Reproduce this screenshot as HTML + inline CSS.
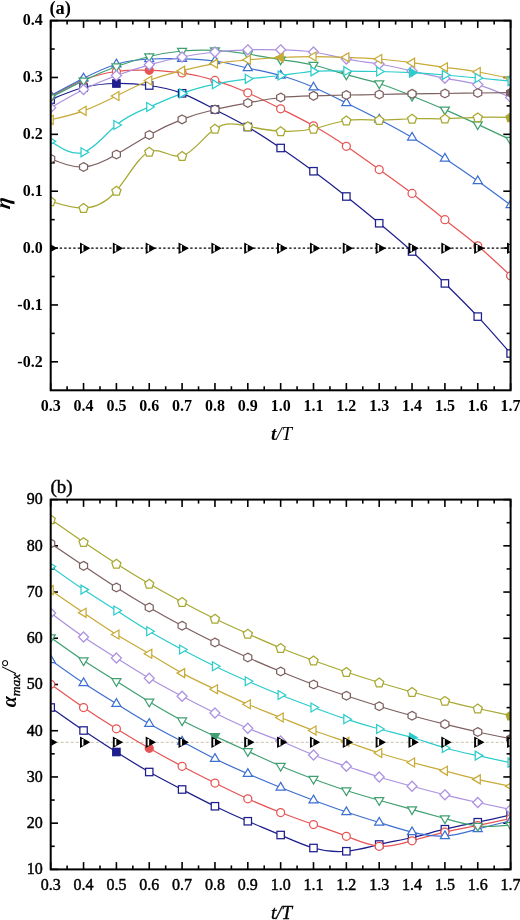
<!DOCTYPE html>
<html><head><meta charset="utf-8"><style>
html,body{margin:0;padding:0;background:#fff;}
svg{display:block;}
.tl{font-family:"Liberation Serif",serif;font-weight:bold;font-size:16px;fill:#000;}
.tl2{font-family:"Liberation Serif",serif;font-weight:normal;font-size:16px;fill:#000;stroke:#000;stroke-width:0.45px;}
.pl{font-family:"Liberation Serif",serif;font-weight:bold;font-size:18.5px;fill:#000;}
.at{font-family:"Liberation Serif",serif;font-style:italic;font-size:19px;fill:#000;}
</style></head><body>
<svg width="520" height="920" viewBox="0 0 520 920">
<rect width="520" height="920" fill="#fff"/>
<g stroke="#000" stroke-width="1.6"><line x1="50.7" y1="390.3" x2="50.7" y2="383"/><line x1="50.7" y1="20.6" x2="50.7" y2="27.9"/><line x1="83.55" y1="390.3" x2="83.55" y2="383"/><line x1="83.55" y1="20.6" x2="83.55" y2="27.9"/><line x1="116.4" y1="390.3" x2="116.4" y2="383"/><line x1="116.4" y1="20.6" x2="116.4" y2="27.9"/><line x1="149.25" y1="390.3" x2="149.25" y2="383"/><line x1="149.25" y1="20.6" x2="149.25" y2="27.9"/><line x1="182.1" y1="390.3" x2="182.1" y2="383"/><line x1="182.1" y1="20.6" x2="182.1" y2="27.9"/><line x1="214.95" y1="390.3" x2="214.95" y2="383"/><line x1="214.95" y1="20.6" x2="214.95" y2="27.9"/><line x1="247.8" y1="390.3" x2="247.8" y2="383"/><line x1="247.8" y1="20.6" x2="247.8" y2="27.9"/><line x1="280.65" y1="390.3" x2="280.65" y2="383"/><line x1="280.65" y1="20.6" x2="280.65" y2="27.9"/><line x1="313.5" y1="390.3" x2="313.5" y2="383"/><line x1="313.5" y1="20.6" x2="313.5" y2="27.9"/><line x1="346.35" y1="390.3" x2="346.35" y2="383"/><line x1="346.35" y1="20.6" x2="346.35" y2="27.9"/><line x1="379.2" y1="390.3" x2="379.2" y2="383"/><line x1="379.2" y1="20.6" x2="379.2" y2="27.9"/><line x1="412.05" y1="390.3" x2="412.05" y2="383"/><line x1="412.05" y1="20.6" x2="412.05" y2="27.9"/><line x1="444.9" y1="390.3" x2="444.9" y2="383"/><line x1="444.9" y1="20.6" x2="444.9" y2="27.9"/><line x1="477.75" y1="390.3" x2="477.75" y2="383"/><line x1="477.75" y1="20.6" x2="477.75" y2="27.9"/><line x1="510.6" y1="390.3" x2="510.6" y2="383"/><line x1="510.6" y1="20.6" x2="510.6" y2="27.9"/><line x1="67.12" y1="390.3" x2="67.12" y2="386.3"/><line x1="67.12" y1="20.6" x2="67.12" y2="24.6"/><line x1="99.98" y1="390.3" x2="99.98" y2="386.3"/><line x1="99.98" y1="20.6" x2="99.98" y2="24.6"/><line x1="132.83" y1="390.3" x2="132.83" y2="386.3"/><line x1="132.83" y1="20.6" x2="132.83" y2="24.6"/><line x1="165.68" y1="390.3" x2="165.68" y2="386.3"/><line x1="165.68" y1="20.6" x2="165.68" y2="24.6"/><line x1="198.53" y1="390.3" x2="198.53" y2="386.3"/><line x1="198.53" y1="20.6" x2="198.53" y2="24.6"/><line x1="231.38" y1="390.3" x2="231.38" y2="386.3"/><line x1="231.38" y1="20.6" x2="231.38" y2="24.6"/><line x1="264.23" y1="390.3" x2="264.23" y2="386.3"/><line x1="264.23" y1="20.6" x2="264.23" y2="24.6"/><line x1="297.08" y1="390.3" x2="297.08" y2="386.3"/><line x1="297.08" y1="20.6" x2="297.08" y2="24.6"/><line x1="329.93" y1="390.3" x2="329.93" y2="386.3"/><line x1="329.93" y1="20.6" x2="329.93" y2="24.6"/><line x1="362.78" y1="390.3" x2="362.78" y2="386.3"/><line x1="362.78" y1="20.6" x2="362.78" y2="24.6"/><line x1="395.62" y1="390.3" x2="395.62" y2="386.3"/><line x1="395.62" y1="20.6" x2="395.62" y2="24.6"/><line x1="428.48" y1="390.3" x2="428.48" y2="386.3"/><line x1="428.48" y1="20.6" x2="428.48" y2="24.6"/><line x1="461.33" y1="390.3" x2="461.33" y2="386.3"/><line x1="461.33" y1="20.6" x2="461.33" y2="24.6"/><line x1="494.18" y1="390.3" x2="494.18" y2="386.3"/><line x1="494.18" y1="20.6" x2="494.18" y2="24.6"/><line x1="50.7" y1="361.82" x2="58" y2="361.82"/><line x1="510.6" y1="361.82" x2="503.3" y2="361.82"/><line x1="50.7" y1="304.95" x2="58" y2="304.95"/><line x1="510.6" y1="304.95" x2="503.3" y2="304.95"/><line x1="50.7" y1="248.08" x2="58" y2="248.08"/><line x1="510.6" y1="248.08" x2="503.3" y2="248.08"/><line x1="50.7" y1="191.21" x2="58" y2="191.21"/><line x1="510.6" y1="191.21" x2="503.3" y2="191.21"/><line x1="50.7" y1="134.34" x2="58" y2="134.34"/><line x1="510.6" y1="134.34" x2="503.3" y2="134.34"/><line x1="50.7" y1="77.47" x2="58" y2="77.47"/><line x1="510.6" y1="77.47" x2="503.3" y2="77.47"/><line x1="50.7" y1="20.6" x2="58" y2="20.6"/><line x1="510.6" y1="20.6" x2="503.3" y2="20.6"/><line x1="50.7" y1="49.04" x2="54.7" y2="49.04"/><line x1="510.6" y1="49.04" x2="506.6" y2="49.04"/><line x1="50.7" y1="105.91" x2="54.7" y2="105.91"/><line x1="510.6" y1="105.91" x2="506.6" y2="105.91"/><line x1="50.7" y1="162.78" x2="54.7" y2="162.78"/><line x1="510.6" y1="162.78" x2="506.6" y2="162.78"/><line x1="50.7" y1="219.65" x2="54.7" y2="219.65"/><line x1="510.6" y1="219.65" x2="506.6" y2="219.65"/><line x1="50.7" y1="276.52" x2="54.7" y2="276.52"/><line x1="510.6" y1="276.52" x2="506.6" y2="276.52"/><line x1="50.7" y1="333.39" x2="54.7" y2="333.39"/><line x1="510.6" y1="333.39" x2="506.6" y2="333.39"/></g><g class="tl"><text x="42.7" y="366.62" text-anchor="end">-0.2</text><text x="42.7" y="309.75" text-anchor="end">-0.1</text><text x="42.7" y="252.88" text-anchor="end">0.0</text><text x="42.7" y="196.01" text-anchor="end">0.1</text><text x="42.7" y="139.14" text-anchor="end">0.2</text><text x="42.7" y="82.27" text-anchor="end">0.3</text><text x="42.7" y="25.4" text-anchor="end">0.4</text><text x="50.7" y="410.9" text-anchor="middle">0.3</text><text x="83.55" y="410.9" text-anchor="middle">0.4</text><text x="116.4" y="410.9" text-anchor="middle">0.5</text><text x="149.25" y="410.9" text-anchor="middle">0.6</text><text x="182.1" y="410.9" text-anchor="middle">0.7</text><text x="214.95" y="410.9" text-anchor="middle">0.8</text><text x="247.8" y="410.9" text-anchor="middle">0.9</text><text x="280.65" y="410.9" text-anchor="middle">1.0</text><text x="313.5" y="410.9" text-anchor="middle">1.1</text><text x="346.35" y="410.9" text-anchor="middle">1.2</text><text x="379.2" y="410.9" text-anchor="middle">1.3</text><text x="412.05" y="410.9" text-anchor="middle">1.4</text><text x="444.9" y="410.9" text-anchor="middle">1.5</text><text x="477.75" y="410.9" text-anchor="middle">1.6</text><text x="510.6" y="410.9" text-anchor="middle">1.7</text></g>
<g stroke="#000" stroke-width="1.6"><line x1="50.7" y1="869.4" x2="50.7" y2="862.1"/><line x1="50.7" y1="499.6" x2="50.7" y2="506.9"/><line x1="83.55" y1="869.4" x2="83.55" y2="862.1"/><line x1="83.55" y1="499.6" x2="83.55" y2="506.9"/><line x1="116.4" y1="869.4" x2="116.4" y2="862.1"/><line x1="116.4" y1="499.6" x2="116.4" y2="506.9"/><line x1="149.25" y1="869.4" x2="149.25" y2="862.1"/><line x1="149.25" y1="499.6" x2="149.25" y2="506.9"/><line x1="182.1" y1="869.4" x2="182.1" y2="862.1"/><line x1="182.1" y1="499.6" x2="182.1" y2="506.9"/><line x1="214.95" y1="869.4" x2="214.95" y2="862.1"/><line x1="214.95" y1="499.6" x2="214.95" y2="506.9"/><line x1="247.8" y1="869.4" x2="247.8" y2="862.1"/><line x1="247.8" y1="499.6" x2="247.8" y2="506.9"/><line x1="280.65" y1="869.4" x2="280.65" y2="862.1"/><line x1="280.65" y1="499.6" x2="280.65" y2="506.9"/><line x1="313.5" y1="869.4" x2="313.5" y2="862.1"/><line x1="313.5" y1="499.6" x2="313.5" y2="506.9"/><line x1="346.35" y1="869.4" x2="346.35" y2="862.1"/><line x1="346.35" y1="499.6" x2="346.35" y2="506.9"/><line x1="379.2" y1="869.4" x2="379.2" y2="862.1"/><line x1="379.2" y1="499.6" x2="379.2" y2="506.9"/><line x1="412.05" y1="869.4" x2="412.05" y2="862.1"/><line x1="412.05" y1="499.6" x2="412.05" y2="506.9"/><line x1="444.9" y1="869.4" x2="444.9" y2="862.1"/><line x1="444.9" y1="499.6" x2="444.9" y2="506.9"/><line x1="477.75" y1="869.4" x2="477.75" y2="862.1"/><line x1="477.75" y1="499.6" x2="477.75" y2="506.9"/><line x1="510.6" y1="869.4" x2="510.6" y2="862.1"/><line x1="510.6" y1="499.6" x2="510.6" y2="506.9"/><line x1="67.12" y1="869.4" x2="67.12" y2="865.4"/><line x1="67.12" y1="499.6" x2="67.12" y2="503.6"/><line x1="99.98" y1="869.4" x2="99.98" y2="865.4"/><line x1="99.98" y1="499.6" x2="99.98" y2="503.6"/><line x1="132.83" y1="869.4" x2="132.83" y2="865.4"/><line x1="132.83" y1="499.6" x2="132.83" y2="503.6"/><line x1="165.68" y1="869.4" x2="165.68" y2="865.4"/><line x1="165.68" y1="499.6" x2="165.68" y2="503.6"/><line x1="198.53" y1="869.4" x2="198.53" y2="865.4"/><line x1="198.53" y1="499.6" x2="198.53" y2="503.6"/><line x1="231.38" y1="869.4" x2="231.38" y2="865.4"/><line x1="231.38" y1="499.6" x2="231.38" y2="503.6"/><line x1="264.23" y1="869.4" x2="264.23" y2="865.4"/><line x1="264.23" y1="499.6" x2="264.23" y2="503.6"/><line x1="297.08" y1="869.4" x2="297.08" y2="865.4"/><line x1="297.08" y1="499.6" x2="297.08" y2="503.6"/><line x1="329.93" y1="869.4" x2="329.93" y2="865.4"/><line x1="329.93" y1="499.6" x2="329.93" y2="503.6"/><line x1="362.78" y1="869.4" x2="362.78" y2="865.4"/><line x1="362.78" y1="499.6" x2="362.78" y2="503.6"/><line x1="395.62" y1="869.4" x2="395.62" y2="865.4"/><line x1="395.62" y1="499.6" x2="395.62" y2="503.6"/><line x1="428.48" y1="869.4" x2="428.48" y2="865.4"/><line x1="428.48" y1="499.6" x2="428.48" y2="503.6"/><line x1="461.33" y1="869.4" x2="461.33" y2="865.4"/><line x1="461.33" y1="499.6" x2="461.33" y2="503.6"/><line x1="494.18" y1="869.4" x2="494.18" y2="865.4"/><line x1="494.18" y1="499.6" x2="494.18" y2="503.6"/><line x1="50.7" y1="869.4" x2="58" y2="869.4"/><line x1="510.6" y1="869.4" x2="503.3" y2="869.4"/><line x1="50.7" y1="823.17" x2="58" y2="823.17"/><line x1="510.6" y1="823.17" x2="503.3" y2="823.17"/><line x1="50.7" y1="776.95" x2="58" y2="776.95"/><line x1="510.6" y1="776.95" x2="503.3" y2="776.95"/><line x1="50.7" y1="730.73" x2="58" y2="730.73"/><line x1="510.6" y1="730.73" x2="503.3" y2="730.73"/><line x1="50.7" y1="684.5" x2="58" y2="684.5"/><line x1="510.6" y1="684.5" x2="503.3" y2="684.5"/><line x1="50.7" y1="638.27" x2="58" y2="638.27"/><line x1="510.6" y1="638.27" x2="503.3" y2="638.27"/><line x1="50.7" y1="592.05" x2="58" y2="592.05"/><line x1="510.6" y1="592.05" x2="503.3" y2="592.05"/><line x1="50.7" y1="545.83" x2="58" y2="545.83"/><line x1="510.6" y1="545.83" x2="503.3" y2="545.83"/><line x1="50.7" y1="499.6" x2="58" y2="499.6"/><line x1="510.6" y1="499.6" x2="503.3" y2="499.6"/><line x1="50.7" y1="846.29" x2="54.7" y2="846.29"/><line x1="510.6" y1="846.29" x2="506.6" y2="846.29"/><line x1="50.7" y1="800.06" x2="54.7" y2="800.06"/><line x1="510.6" y1="800.06" x2="506.6" y2="800.06"/><line x1="50.7" y1="753.84" x2="54.7" y2="753.84"/><line x1="510.6" y1="753.84" x2="506.6" y2="753.84"/><line x1="50.7" y1="707.61" x2="54.7" y2="707.61"/><line x1="510.6" y1="707.61" x2="506.6" y2="707.61"/><line x1="50.7" y1="661.39" x2="54.7" y2="661.39"/><line x1="510.6" y1="661.39" x2="506.6" y2="661.39"/><line x1="50.7" y1="615.16" x2="54.7" y2="615.16"/><line x1="510.6" y1="615.16" x2="506.6" y2="615.16"/><line x1="50.7" y1="568.94" x2="54.7" y2="568.94"/><line x1="510.6" y1="568.94" x2="506.6" y2="568.94"/><line x1="50.7" y1="522.71" x2="54.7" y2="522.71"/><line x1="510.6" y1="522.71" x2="506.6" y2="522.71"/></g><g class="tl2"><text x="42.7" y="874.2" text-anchor="end">10</text><text x="42.7" y="827.97" text-anchor="end">20</text><text x="42.7" y="781.75" text-anchor="end">30</text><text x="42.7" y="735.52" text-anchor="end">40</text><text x="42.7" y="689.3" text-anchor="end">50</text><text x="42.7" y="643.07" text-anchor="end">60</text><text x="42.7" y="596.85" text-anchor="end">70</text><text x="42.7" y="550.62" text-anchor="end">80</text><text x="42.7" y="504.4" text-anchor="end">90</text><text x="50.7" y="889.9" text-anchor="middle">0.3</text><text x="83.55" y="889.9" text-anchor="middle">0.4</text><text x="116.4" y="889.9" text-anchor="middle">0.5</text><text x="149.25" y="889.9" text-anchor="middle">0.6</text><text x="182.1" y="889.9" text-anchor="middle">0.7</text><text x="214.95" y="889.9" text-anchor="middle">0.8</text><text x="247.8" y="889.9" text-anchor="middle">0.9</text><text x="280.65" y="889.9" text-anchor="middle">1.0</text><text x="313.5" y="889.9" text-anchor="middle">1.1</text><text x="346.35" y="889.9" text-anchor="middle">1.2</text><text x="379.2" y="889.9" text-anchor="middle">1.3</text><text x="412.05" y="889.9" text-anchor="middle">1.4</text><text x="444.9" y="889.9" text-anchor="middle">1.5</text><text x="477.75" y="889.9" text-anchor="middle">1.6</text><text x="510.6" y="889.9" text-anchor="middle">1.7</text></g>
<clipPath id="ca"><rect x="51.2" y="21.1" width="458.9" height="368.7"/></clipPath>
<g clip-path="url(#ca)">
<line x1="50.7" y1="248.2" x2="510.6" y2="248.2" stroke="#000" stroke-width="1.2" stroke-dasharray="2.4 2.1"/>
<path d="M50.7,99.6C61.65,94.96 72.6,90.33 83.55,87.5C94.5,84.67 105.45,83.65 116.4,83.5C127.35,83.35 138.3,84.06 149.25,85.5C160.2,86.94 171.15,89.11 182.1,93.3C193.05,97.49 204,103.7 214.95,109.5C225.9,115.3 236.85,120.69 247.8,127C258.75,133.31 269.7,140.53 280.65,148C291.6,155.47 302.55,163.17 313.5,171.25C324.45,179.33 335.4,187.78 346.35,196.5C357.3,205.22 368.25,214.19 379.2,223.25C390.15,232.31 401.1,241.44 412.05,251.5C423,261.56 433.95,272.56 444.9,283.4C455.85,294.24 466.8,304.94 477.75,316.6C488.7,328.26 499.65,340.88 510.6,353.5" fill="none" stroke="#1e1e8c" stroke-width="1.25"/>
<path d="M50.7,96.5C61.65,90.44 72.6,84.38 83.55,80C94.5,75.62 105.45,72.9 116.4,71.5C127.35,70.1 138.3,70 149.25,70.3C160.2,70.6 171.15,71.29 182.1,72.9C193.05,74.51 204,77.05 214.95,80.4C225.9,83.75 236.85,87.92 247.8,92.8C258.75,97.68 269.7,103.27 280.65,108.75C291.6,114.23 302.55,119.61 313.5,125.75C324.45,131.89 335.4,138.8 346.35,146.25C357.3,153.7 368.25,161.68 379.2,169.5C390.15,177.32 401.1,184.97 412.05,193.4C423,201.83 433.95,211.02 444.9,219.7C455.85,228.38 466.8,236.54 477.75,245.8C488.7,255.06 499.65,265.43 510.6,275.8" fill="none" stroke="#e65454" stroke-width="1.25"/>
<path d="M50.7,95.6C61.65,89.72 72.6,83.85 83.55,78.3C94.5,72.75 105.45,67.54 116.4,64.25C127.35,60.96 138.3,59.6 149.25,59C160.2,58.4 171.15,58.56 182.1,58.8C193.05,59.04 204,59.38 214.95,61C225.9,62.62 236.85,65.54 247.8,68C258.75,70.46 269.7,72.48 280.65,75.5C291.6,78.52 302.55,82.54 313.5,87.3C324.45,92.06 335.4,97.55 346.35,103C357.3,108.45 368.25,113.87 379.2,119.5C390.15,125.13 401.1,130.98 412.05,137.5C423,144.02 433.95,151.2 444.9,158.5C455.85,165.8 466.8,173.23 477.75,181C488.7,188.77 499.65,196.89 510.6,205" fill="none" stroke="#3d6fd1" stroke-width="1.25"/>
<path d="M50.7,97.5C61.65,91.69 72.6,85.89 83.55,80.6C94.5,75.31 105.45,70.55 116.4,66.5C127.35,62.45 138.3,59.11 149.25,56.5C160.2,53.89 171.15,52.02 182.1,51C193.05,49.98 204,49.83 214.95,50.4C225.9,50.97 236.85,52.26 247.8,54C258.75,55.74 269.7,57.93 280.65,59.6C291.6,61.27 302.55,62.42 313.5,65C324.45,67.58 335.4,71.57 346.35,74.7C357.3,77.83 368.25,80.08 379.2,83.5C390.15,86.92 401.1,91.51 412.05,96C423,100.49 433.95,104.89 444.9,109.6C455.85,114.31 466.8,119.32 477.75,124.4C488.7,129.48 499.65,134.64 510.6,139.8" fill="none" stroke="#41a072" stroke-width="1.25"/>
<path d="M50.7,107.7C61.65,101.32 72.6,94.94 83.55,89.5C94.5,84.06 105.45,79.54 116.4,75.5C127.35,71.46 138.3,67.88 149.25,64.8C160.2,61.72 171.15,59.13 182.1,57C193.05,54.87 204,53.19 214.95,52C225.9,50.81 236.85,50.1 247.8,49.8C258.75,49.5 269.7,49.61 280.65,49.8C291.6,49.99 302.55,50.28 313.5,52C324.45,53.72 335.4,56.88 346.35,59C357.3,61.12 368.25,62.19 379.2,64C390.15,65.81 401.1,68.37 412.05,71C423,73.63 433.95,76.32 444.9,78.3C455.85,80.28 466.8,81.54 477.75,84.6C488.7,87.66 499.65,92.53 510.6,97.4" fill="none" stroke="#ac92e0" stroke-width="1.25"/>
<path d="M50.7,119.8C61.65,117.27 72.6,114.74 83.55,110.8C94.5,106.86 105.45,101.52 116.4,96C127.35,90.48 138.3,84.77 149.25,80.5C160.2,76.23 171.15,73.4 182.1,70.7C193.05,68 204,65.42 214.95,63.6C225.9,61.78 236.85,60.72 247.8,59.8C258.75,58.88 269.7,58.09 280.65,57.5C291.6,56.91 302.55,56.5 313.5,56.5C324.45,56.5 335.4,56.89 346.35,57.3C357.3,57.71 368.25,58.12 379.2,59C390.15,59.88 401.1,61.22 412.05,62.7C423,64.18 433.95,65.81 444.9,67.3C455.85,68.79 466.8,70.16 477.75,72C488.7,73.84 499.65,76.17 510.6,78.5" fill="none" stroke="#c8aa36" stroke-width="1.25"/>
<path d="M50.7,141.25C61.65,148.56 72.6,155.87 83.55,152.3C94.5,148.73 105.45,134.29 116.4,125C127.35,115.71 138.3,111.59 149.25,107C160.2,102.41 171.15,97.37 182.1,93.4C193.05,89.43 204,86.54 214.95,84.2C225.9,81.86 236.85,80.05 247.8,78.8C258.75,77.55 269.7,76.84 280.65,75.5C291.6,74.16 302.55,72.18 313.5,71.4C324.45,70.62 335.4,71.02 346.35,71.2C357.3,71.38 368.25,71.32 379.2,71.5C390.15,71.68 401.1,72.1 412.05,72.7C423,73.3 433.95,74.09 444.9,75C455.85,75.91 466.8,76.95 477.75,78C488.7,79.05 499.65,80.13 510.6,81.2" fill="none" stroke="#2ccccc" stroke-width="1.25"/>
<path d="M50.7,158.75C61.65,163.17 72.6,167.59 83.55,167C94.5,166.41 105.45,160.82 116.4,154.5C127.35,148.18 138.3,141.14 149.25,135C160.2,128.86 171.15,123.61 182.1,119.4C193.05,115.19 204,112.03 214.95,109.5C225.9,106.97 236.85,105.06 247.8,103C258.75,100.94 269.7,98.72 280.65,97.5C291.6,96.28 302.55,96.07 313.5,95.8C324.45,95.53 335.4,95.21 346.35,95C357.3,94.79 368.25,94.71 379.2,94.5C390.15,94.29 401.1,93.97 412.05,93.8C423,93.63 433.95,93.62 444.9,93.5C455.85,93.38 466.8,93.15 477.75,93C488.7,92.85 499.65,92.77 510.6,92.7" fill="none" stroke="#7e6060" stroke-width="1.25"/>
<path d="M50.7,201.25C61.65,204.78 72.6,208.31 83.55,208C94.5,207.69 105.45,203.53 116.4,190.75C127.35,177.97 138.3,156.56 149.25,151.75C160.2,146.94 171.15,158.71 182.1,156C193.05,153.29 204,136.08 214.95,128.75C225.9,121.42 236.85,123.96 247.8,126.25C258.75,128.54 269.7,130.58 280.65,131.25C291.6,131.92 302.55,131.21 313.5,128.75C324.45,126.29 335.4,122.08 346.35,120.5C357.3,118.92 368.25,119.97 379.2,120C390.15,120.03 401.1,119.03 412.05,118.75C423,118.47 433.95,118.91 444.9,118.7C455.85,118.49 466.8,117.64 477.75,117.3C488.7,116.96 499.65,117.13 510.6,117.3" fill="none" stroke="#a8a832" stroke-width="1.25"/>
<rect x="47" y="95.9" width="7.4" height="7.4" fill="#fff" stroke="#1e1e8c" stroke-width="1.25"/>
<rect x="79.85" y="83.8" width="7.4" height="7.4" fill="#fff" stroke="#1e1e8c" stroke-width="1.25"/>
<rect x="112.7" y="79.8" width="7.4" height="7.4" fill="#1e1e8c" stroke="#1e1e8c" stroke-width="1.25"/>
<rect x="145.55" y="81.8" width="7.4" height="7.4" fill="#fff" stroke="#1e1e8c" stroke-width="1.25"/>
<rect x="178.4" y="89.6" width="7.4" height="7.4" fill="#fff" stroke="#1e1e8c" stroke-width="1.25"/>
<rect x="211.25" y="105.8" width="7.4" height="7.4" fill="#fff" stroke="#1e1e8c" stroke-width="1.25"/>
<rect x="244.1" y="123.3" width="7.4" height="7.4" fill="#fff" stroke="#1e1e8c" stroke-width="1.25"/>
<rect x="276.95" y="144.3" width="7.4" height="7.4" fill="#fff" stroke="#1e1e8c" stroke-width="1.25"/>
<rect x="309.8" y="167.55" width="7.4" height="7.4" fill="#fff" stroke="#1e1e8c" stroke-width="1.25"/>
<rect x="342.65" y="192.8" width="7.4" height="7.4" fill="#fff" stroke="#1e1e8c" stroke-width="1.25"/>
<rect x="375.5" y="219.55" width="7.4" height="7.4" fill="#fff" stroke="#1e1e8c" stroke-width="1.25"/>
<rect x="408.35" y="247.8" width="7.4" height="7.4" fill="#fff" stroke="#1e1e8c" stroke-width="1.25"/>
<rect x="441.2" y="279.7" width="7.4" height="7.4" fill="#fff" stroke="#1e1e8c" stroke-width="1.25"/>
<rect x="474.05" y="312.9" width="7.4" height="7.4" fill="#fff" stroke="#1e1e8c" stroke-width="1.25"/>
<rect x="506.9" y="349.8" width="7.4" height="7.4" fill="#fff" stroke="#1e1e8c" stroke-width="1.25"/>
<circle cx="50.7" cy="96.5" r="4" fill="#fff" stroke="#e65454" stroke-width="1.25"/>
<circle cx="83.55" cy="80" r="4" fill="#fff" stroke="#e65454" stroke-width="1.25"/>
<circle cx="116.4" cy="71.5" r="4" fill="#fff" stroke="#e65454" stroke-width="1.25"/>
<circle cx="149.25" cy="70.3" r="4" fill="#e65454" stroke="#e65454" stroke-width="1.25"/>
<circle cx="182.1" cy="72.9" r="4" fill="#fff" stroke="#e65454" stroke-width="1.25"/>
<circle cx="214.95" cy="80.4" r="4" fill="#fff" stroke="#e65454" stroke-width="1.25"/>
<circle cx="247.8" cy="92.8" r="4" fill="#fff" stroke="#e65454" stroke-width="1.25"/>
<circle cx="280.65" cy="108.75" r="4" fill="#fff" stroke="#e65454" stroke-width="1.25"/>
<circle cx="313.5" cy="125.75" r="4" fill="#fff" stroke="#e65454" stroke-width="1.25"/>
<circle cx="346.35" cy="146.25" r="4" fill="#fff" stroke="#e65454" stroke-width="1.25"/>
<circle cx="379.2" cy="169.5" r="4" fill="#fff" stroke="#e65454" stroke-width="1.25"/>
<circle cx="412.05" cy="193.4" r="4" fill="#fff" stroke="#e65454" stroke-width="1.25"/>
<circle cx="444.9" cy="219.7" r="4" fill="#fff" stroke="#e65454" stroke-width="1.25"/>
<circle cx="477.75" cy="245.8" r="4" fill="#fff" stroke="#e65454" stroke-width="1.25"/>
<circle cx="510.6" cy="275.8" r="4" fill="#fff" stroke="#e65454" stroke-width="1.25"/>
<polygon points="50.7,90.53 55.2,98.13 46.2,98.13" fill="#fff" stroke="#3d6fd1" stroke-width="1.25" stroke-linejoin="miter"/>
<polygon points="83.55,73.23 88.05,80.83 79.05,80.83" fill="#fff" stroke="#3d6fd1" stroke-width="1.25" stroke-linejoin="miter"/>
<polygon points="116.4,59.18 120.9,66.78 111.9,66.78" fill="#fff" stroke="#3d6fd1" stroke-width="1.25" stroke-linejoin="miter"/>
<polygon points="149.25,53.93 153.75,61.53 144.75,61.53" fill="#fff" stroke="#3d6fd1" stroke-width="1.25" stroke-linejoin="miter"/>
<polygon points="182.1,53.73 186.6,61.33 177.6,61.33" fill="#fff" stroke="#3d6fd1" stroke-width="1.25" stroke-linejoin="miter"/>
<polygon points="214.95,55.93 219.45,63.53 210.45,63.53" fill="#fff" stroke="#3d6fd1" stroke-width="1.25" stroke-linejoin="miter"/>
<polygon points="247.8,62.93 252.3,70.53 243.3,70.53" fill="#fff" stroke="#3d6fd1" stroke-width="1.25" stroke-linejoin="miter"/>
<polygon points="280.65,70.43 285.15,78.03 276.15,78.03" fill="#fff" stroke="#3d6fd1" stroke-width="1.25" stroke-linejoin="miter"/>
<polygon points="313.5,82.23 318,89.83 309,89.83" fill="#fff" stroke="#3d6fd1" stroke-width="1.25" stroke-linejoin="miter"/>
<polygon points="346.35,97.93 350.85,105.53 341.85,105.53" fill="#fff" stroke="#3d6fd1" stroke-width="1.25" stroke-linejoin="miter"/>
<polygon points="379.2,114.43 383.7,122.03 374.7,122.03" fill="#fff" stroke="#3d6fd1" stroke-width="1.25" stroke-linejoin="miter"/>
<polygon points="412.05,132.43 416.55,140.03 407.55,140.03" fill="#fff" stroke="#3d6fd1" stroke-width="1.25" stroke-linejoin="miter"/>
<polygon points="444.9,153.43 449.4,161.03 440.4,161.03" fill="#fff" stroke="#3d6fd1" stroke-width="1.25" stroke-linejoin="miter"/>
<polygon points="477.75,175.93 482.25,183.53 473.25,183.53" fill="#fff" stroke="#3d6fd1" stroke-width="1.25" stroke-linejoin="miter"/>
<polygon points="510.6,199.93 515.1,207.53 506.1,207.53" fill="#fff" stroke="#3d6fd1" stroke-width="1.25" stroke-linejoin="miter"/>
<polygon points="50.7,102.57 55.2,94.97 46.2,94.97" fill="#fff" stroke="#41a072" stroke-width="1.25" stroke-linejoin="miter"/>
<polygon points="83.55,85.67 88.05,78.07 79.05,78.07" fill="#fff" stroke="#41a072" stroke-width="1.25" stroke-linejoin="miter"/>
<polygon points="116.4,71.57 120.9,63.97 111.9,63.97" fill="#fff" stroke="#41a072" stroke-width="1.25" stroke-linejoin="miter"/>
<polygon points="149.25,61.57 153.75,53.97 144.75,53.97" fill="#fff" stroke="#41a072" stroke-width="1.25" stroke-linejoin="miter"/>
<polygon points="182.1,56.07 186.6,48.47 177.6,48.47" fill="#fff" stroke="#41a072" stroke-width="1.25" stroke-linejoin="miter"/>
<polygon points="214.95,55.47 219.45,47.87 210.45,47.87" fill="#fff" stroke="#41a072" stroke-width="1.25" stroke-linejoin="miter"/>
<polygon points="247.8,59.07 252.3,51.47 243.3,51.47" fill="#fff" stroke="#41a072" stroke-width="1.25" stroke-linejoin="miter"/>
<polygon points="280.65,64.67 285.15,57.07 276.15,57.07" fill="#fff" stroke="#41a072" stroke-width="1.25" stroke-linejoin="miter"/>
<polygon points="313.5,70.07 318,62.47 309,62.47" fill="#fff" stroke="#41a072" stroke-width="1.25" stroke-linejoin="miter"/>
<polygon points="346.35,79.77 350.85,72.17 341.85,72.17" fill="#fff" stroke="#41a072" stroke-width="1.25" stroke-linejoin="miter"/>
<polygon points="379.2,88.57 383.7,80.97 374.7,80.97" fill="#fff" stroke="#41a072" stroke-width="1.25" stroke-linejoin="miter"/>
<polygon points="412.05,101.07 416.55,93.47 407.55,93.47" fill="#fff" stroke="#41a072" stroke-width="1.25" stroke-linejoin="miter"/>
<polygon points="444.9,114.67 449.4,107.07 440.4,107.07" fill="#fff" stroke="#41a072" stroke-width="1.25" stroke-linejoin="miter"/>
<polygon points="477.75,129.47 482.25,121.87 473.25,121.87" fill="#fff" stroke="#41a072" stroke-width="1.25" stroke-linejoin="miter"/>
<polygon points="510.6,144.87 515.1,137.27 506.1,137.27" fill="#fff" stroke="#41a072" stroke-width="1.25" stroke-linejoin="miter"/>
<polygon points="50.7,102.7 55.7,107.7 50.7,112.7 45.7,107.7" fill="#fff" stroke="#ac92e0" stroke-width="1.25" stroke-linejoin="miter"/>
<polygon points="83.55,84.5 88.55,89.5 83.55,94.5 78.55,89.5" fill="#fff" stroke="#ac92e0" stroke-width="1.25" stroke-linejoin="miter"/>
<polygon points="116.4,70.5 121.4,75.5 116.4,80.5 111.4,75.5" fill="#fff" stroke="#ac92e0" stroke-width="1.25" stroke-linejoin="miter"/>
<polygon points="149.25,59.8 154.25,64.8 149.25,69.8 144.25,64.8" fill="#fff" stroke="#ac92e0" stroke-width="1.25" stroke-linejoin="miter"/>
<polygon points="182.1,52 187.1,57 182.1,62 177.1,57" fill="#fff" stroke="#ac92e0" stroke-width="1.25" stroke-linejoin="miter"/>
<polygon points="214.95,47 219.95,52 214.95,57 209.95,52" fill="#fff" stroke="#ac92e0" stroke-width="1.25" stroke-linejoin="miter"/>
<polygon points="247.8,44.8 252.8,49.8 247.8,54.8 242.8,49.8" fill="#fff" stroke="#ac92e0" stroke-width="1.25" stroke-linejoin="miter"/>
<polygon points="280.65,44.8 285.65,49.8 280.65,54.8 275.65,49.8" fill="#fff" stroke="#ac92e0" stroke-width="1.25" stroke-linejoin="miter"/>
<polygon points="313.5,47 318.5,52 313.5,57 308.5,52" fill="#fff" stroke="#ac92e0" stroke-width="1.25" stroke-linejoin="miter"/>
<polygon points="346.35,54 351.35,59 346.35,64 341.35,59" fill="#fff" stroke="#ac92e0" stroke-width="1.25" stroke-linejoin="miter"/>
<polygon points="379.2,59 384.2,64 379.2,69 374.2,64" fill="#fff" stroke="#ac92e0" stroke-width="1.25" stroke-linejoin="miter"/>
<polygon points="412.05,66 417.05,71 412.05,76 407.05,71" fill="#fff" stroke="#ac92e0" stroke-width="1.25" stroke-linejoin="miter"/>
<polygon points="444.9,73.3 449.9,78.3 444.9,83.3 439.9,78.3" fill="#fff" stroke="#ac92e0" stroke-width="1.25" stroke-linejoin="miter"/>
<polygon points="477.75,79.6 482.75,84.6 477.75,89.6 472.75,84.6" fill="#fff" stroke="#ac92e0" stroke-width="1.25" stroke-linejoin="miter"/>
<polygon points="510.6,92.4 515.6,97.4 510.6,102.4 505.6,97.4" fill="#fff" stroke="#ac92e0" stroke-width="1.25" stroke-linejoin="miter"/>
<polygon points="45.63,119.8 53.23,115.3 53.23,124.3" fill="#fff" stroke="#c8aa36" stroke-width="1.25" stroke-linejoin="miter"/>
<polygon points="78.48,110.8 86.08,106.3 86.08,115.3" fill="#fff" stroke="#c8aa36" stroke-width="1.25" stroke-linejoin="miter"/>
<polygon points="111.33,96 118.93,91.5 118.93,100.5" fill="#fff" stroke="#c8aa36" stroke-width="1.25" stroke-linejoin="miter"/>
<polygon points="144.18,80.5 151.78,76 151.78,85" fill="#fff" stroke="#c8aa36" stroke-width="1.25" stroke-linejoin="miter"/>
<polygon points="177.03,70.7 184.63,66.2 184.63,75.2" fill="#fff" stroke="#c8aa36" stroke-width="1.25" stroke-linejoin="miter"/>
<polygon points="209.88,63.6 217.48,59.1 217.48,68.1" fill="#fff" stroke="#c8aa36" stroke-width="1.25" stroke-linejoin="miter"/>
<polygon points="242.73,59.8 250.33,55.3 250.33,64.3" fill="#fff" stroke="#c8aa36" stroke-width="1.25" stroke-linejoin="miter"/>
<polygon points="275.58,57.5 283.18,53 283.18,62" fill="#c8aa36" stroke="#c8aa36" stroke-width="1.25" stroke-linejoin="miter"/>
<polygon points="308.43,56.5 316.03,52 316.03,61" fill="#fff" stroke="#c8aa36" stroke-width="1.25" stroke-linejoin="miter"/>
<polygon points="341.28,57.3 348.88,52.8 348.88,61.8" fill="#fff" stroke="#c8aa36" stroke-width="1.25" stroke-linejoin="miter"/>
<polygon points="374.13,59 381.73,54.5 381.73,63.5" fill="#fff" stroke="#c8aa36" stroke-width="1.25" stroke-linejoin="miter"/>
<polygon points="406.98,62.7 414.58,58.2 414.58,67.2" fill="#fff" stroke="#c8aa36" stroke-width="1.25" stroke-linejoin="miter"/>
<polygon points="439.83,67.3 447.43,62.8 447.43,71.8" fill="#fff" stroke="#c8aa36" stroke-width="1.25" stroke-linejoin="miter"/>
<polygon points="472.68,72 480.28,67.5 480.28,76.5" fill="#fff" stroke="#c8aa36" stroke-width="1.25" stroke-linejoin="miter"/>
<polygon points="505.53,78.5 513.13,74 513.13,83" fill="#fff" stroke="#c8aa36" stroke-width="1.25" stroke-linejoin="miter"/>
<polygon points="55.77,141.25 48.17,136.75 48.17,145.75" fill="#fff" stroke="#2ccccc" stroke-width="1.25" stroke-linejoin="miter"/>
<polygon points="88.62,152.3 81.02,147.8 81.02,156.8" fill="#fff" stroke="#2ccccc" stroke-width="1.25" stroke-linejoin="miter"/>
<polygon points="121.47,125 113.87,120.5 113.87,129.5" fill="#fff" stroke="#2ccccc" stroke-width="1.25" stroke-linejoin="miter"/>
<polygon points="154.32,107 146.72,102.5 146.72,111.5" fill="#fff" stroke="#2ccccc" stroke-width="1.25" stroke-linejoin="miter"/>
<polygon points="187.17,93.4 179.57,88.9 179.57,97.9" fill="#fff" stroke="#2ccccc" stroke-width="1.25" stroke-linejoin="miter"/>
<polygon points="220.02,84.2 212.42,79.7 212.42,88.7" fill="#fff" stroke="#2ccccc" stroke-width="1.25" stroke-linejoin="miter"/>
<polygon points="252.87,78.8 245.27,74.3 245.27,83.3" fill="#fff" stroke="#2ccccc" stroke-width="1.25" stroke-linejoin="miter"/>
<polygon points="285.72,75.5 278.12,71 278.12,80" fill="#fff" stroke="#2ccccc" stroke-width="1.25" stroke-linejoin="miter"/>
<polygon points="318.57,71.4 310.97,66.9 310.97,75.9" fill="#fff" stroke="#2ccccc" stroke-width="1.25" stroke-linejoin="miter"/>
<polygon points="351.42,71.2 343.82,66.7 343.82,75.7" fill="#fff" stroke="#2ccccc" stroke-width="1.25" stroke-linejoin="miter"/>
<polygon points="384.27,71.5 376.67,67 376.67,76" fill="#fff" stroke="#2ccccc" stroke-width="1.25" stroke-linejoin="miter"/>
<polygon points="417.12,72.7 409.52,68.2 409.52,77.2" fill="#2ccccc" stroke="#2ccccc" stroke-width="1.25" stroke-linejoin="miter"/>
<polygon points="449.97,75 442.37,70.5 442.37,79.5" fill="#fff" stroke="#2ccccc" stroke-width="1.25" stroke-linejoin="miter"/>
<polygon points="482.82,78 475.22,73.5 475.22,82.5" fill="#fff" stroke="#2ccccc" stroke-width="1.25" stroke-linejoin="miter"/>
<polygon points="515.67,81.2 508.07,76.7 508.07,85.7" fill="#fff" stroke="#2ccccc" stroke-width="1.25" stroke-linejoin="miter"/>
<polygon points="50.7,154.35 54.7,156.55 54.7,160.95 50.7,163.15 46.7,160.95 46.7,156.55" fill="#fff" stroke="#7e6060" stroke-width="1.25" stroke-linejoin="miter"/>
<polygon points="83.55,162.6 87.55,164.8 87.55,169.2 83.55,171.4 79.55,169.2 79.55,164.8" fill="#fff" stroke="#7e6060" stroke-width="1.25" stroke-linejoin="miter"/>
<polygon points="116.4,150.1 120.4,152.3 120.4,156.7 116.4,158.9 112.4,156.7 112.4,152.3" fill="#fff" stroke="#7e6060" stroke-width="1.25" stroke-linejoin="miter"/>
<polygon points="149.25,130.6 153.25,132.8 153.25,137.2 149.25,139.4 145.25,137.2 145.25,132.8" fill="#fff" stroke="#7e6060" stroke-width="1.25" stroke-linejoin="miter"/>
<polygon points="182.1,115 186.1,117.2 186.1,121.6 182.1,123.8 178.1,121.6 178.1,117.2" fill="#fff" stroke="#7e6060" stroke-width="1.25" stroke-linejoin="miter"/>
<polygon points="214.95,105.1 218.95,107.3 218.95,111.7 214.95,113.9 210.95,111.7 210.95,107.3" fill="#fff" stroke="#7e6060" stroke-width="1.25" stroke-linejoin="miter"/>
<polygon points="247.8,98.6 251.8,100.8 251.8,105.2 247.8,107.4 243.8,105.2 243.8,100.8" fill="#fff" stroke="#7e6060" stroke-width="1.25" stroke-linejoin="miter"/>
<polygon points="280.65,93.1 284.65,95.3 284.65,99.7 280.65,101.9 276.65,99.7 276.65,95.3" fill="#fff" stroke="#7e6060" stroke-width="1.25" stroke-linejoin="miter"/>
<polygon points="313.5,91.4 317.5,93.6 317.5,98 313.5,100.2 309.5,98 309.5,93.6" fill="#fff" stroke="#7e6060" stroke-width="1.25" stroke-linejoin="miter"/>
<polygon points="346.35,90.6 350.35,92.8 350.35,97.2 346.35,99.4 342.35,97.2 342.35,92.8" fill="#fff" stroke="#7e6060" stroke-width="1.25" stroke-linejoin="miter"/>
<polygon points="379.2,90.1 383.2,92.3 383.2,96.7 379.2,98.9 375.2,96.7 375.2,92.3" fill="#fff" stroke="#7e6060" stroke-width="1.25" stroke-linejoin="miter"/>
<polygon points="412.05,89.4 416.05,91.6 416.05,96 412.05,98.2 408.05,96 408.05,91.6" fill="#fff" stroke="#7e6060" stroke-width="1.25" stroke-linejoin="miter"/>
<polygon points="444.9,89.1 448.9,91.3 448.9,95.7 444.9,97.9 440.9,95.7 440.9,91.3" fill="#fff" stroke="#7e6060" stroke-width="1.25" stroke-linejoin="miter"/>
<polygon points="477.75,88.6 481.75,90.8 481.75,95.2 477.75,97.4 473.75,95.2 473.75,90.8" fill="#fff" stroke="#7e6060" stroke-width="1.25" stroke-linejoin="miter"/>
<polygon points="510.6,88.3 514.6,90.5 514.6,94.9 510.6,97.1 506.6,94.9 506.6,90.5" fill="#7e6060" stroke="#7e6060" stroke-width="1.25" stroke-linejoin="miter"/>
<polygon points="50.7,196.85 55.27,200.17 53.52,205.53 47.88,205.53 46.13,200.17" fill="#fff" stroke="#a8a832" stroke-width="1.25" stroke-linejoin="miter"/>
<polygon points="83.55,203.6 88.12,206.92 86.37,212.28 80.73,212.28 78.98,206.92" fill="#fff" stroke="#a8a832" stroke-width="1.25" stroke-linejoin="miter"/>
<polygon points="116.4,186.35 120.97,189.67 119.22,195.03 113.58,195.03 111.83,189.67" fill="#fff" stroke="#a8a832" stroke-width="1.25" stroke-linejoin="miter"/>
<polygon points="149.25,147.35 153.82,150.67 152.07,156.03 146.43,156.03 144.68,150.67" fill="#fff" stroke="#a8a832" stroke-width="1.25" stroke-linejoin="miter"/>
<polygon points="182.1,151.6 186.67,154.92 184.92,160.28 179.28,160.28 177.53,154.92" fill="#fff" stroke="#a8a832" stroke-width="1.25" stroke-linejoin="miter"/>
<polygon points="214.95,124.35 219.52,127.67 217.77,133.03 212.13,133.03 210.38,127.67" fill="#fff" stroke="#a8a832" stroke-width="1.25" stroke-linejoin="miter"/>
<polygon points="247.8,121.85 252.37,125.17 250.62,130.53 244.98,130.53 243.23,125.17" fill="#fff" stroke="#a8a832" stroke-width="1.25" stroke-linejoin="miter"/>
<polygon points="280.65,126.85 285.22,130.17 283.47,135.53 277.83,135.53 276.08,130.17" fill="#fff" stroke="#a8a832" stroke-width="1.25" stroke-linejoin="miter"/>
<polygon points="313.5,124.35 318.07,127.67 316.32,133.03 310.68,133.03 308.93,127.67" fill="#fff" stroke="#a8a832" stroke-width="1.25" stroke-linejoin="miter"/>
<polygon points="346.35,116.1 350.92,119.42 349.17,124.78 343.53,124.78 341.78,119.42" fill="#fff" stroke="#a8a832" stroke-width="1.25" stroke-linejoin="miter"/>
<polygon points="379.2,115.6 383.77,118.92 382.02,124.28 376.38,124.28 374.63,118.92" fill="#fff" stroke="#a8a832" stroke-width="1.25" stroke-linejoin="miter"/>
<polygon points="412.05,114.35 416.62,117.67 414.87,123.03 409.23,123.03 407.48,117.67" fill="#fff" stroke="#a8a832" stroke-width="1.25" stroke-linejoin="miter"/>
<polygon points="444.9,114.3 449.47,117.62 447.72,122.98 442.08,122.98 440.33,117.62" fill="#fff" stroke="#a8a832" stroke-width="1.25" stroke-linejoin="miter"/>
<polygon points="477.75,112.9 482.32,116.22 480.57,121.58 474.93,121.58 473.18,116.22" fill="#fff" stroke="#a8a832" stroke-width="1.25" stroke-linejoin="miter"/>
<polygon points="510.6,112.9 515.17,116.22 513.42,121.58 507.78,121.58 506.03,116.22" fill="#a8a832" stroke="#a8a832" stroke-width="1.25" stroke-linejoin="miter"/>
<polygon points="47.7,243.4 56.3,248.2 47.7,253" fill="#000" stroke="#000" stroke-width="1.1" stroke-linejoin="miter"/><rect x="49" y="244.9" width="1.6" height="6.6" fill="#fff"/>
<polygon points="80.55,243.4 89.15,248.2 80.55,253" fill="#000" stroke="#000" stroke-width="1.1" stroke-linejoin="miter"/><rect x="81.85" y="244.9" width="1.6" height="6.6" fill="#fff"/>
<polygon points="113.4,243.4 122,248.2 113.4,253" fill="#000" stroke="#000" stroke-width="1.1" stroke-linejoin="miter"/><rect x="114.7" y="244.9" width="1.6" height="6.6" fill="#fff"/>
<polygon points="146.25,243.4 154.85,248.2 146.25,253" fill="#000" stroke="#000" stroke-width="1.1" stroke-linejoin="miter"/><rect x="147.55" y="244.9" width="1.6" height="6.6" fill="#fff"/>
<polygon points="179.1,243.4 187.7,248.2 179.1,253" fill="#000" stroke="#000" stroke-width="1.1" stroke-linejoin="miter"/><rect x="180.4" y="244.9" width="1.6" height="6.6" fill="#fff"/>
<polygon points="211.95,243.4 220.55,248.2 211.95,253" fill="#000" stroke="#000" stroke-width="1.1" stroke-linejoin="miter"/><rect x="213.25" y="244.9" width="1.6" height="6.6" fill="#fff"/>
<polygon points="244.8,243.4 253.4,248.2 244.8,253" fill="#000" stroke="#000" stroke-width="1.1" stroke-linejoin="miter"/><rect x="246.1" y="244.9" width="1.6" height="6.6" fill="#fff"/>
<polygon points="277.65,243.4 286.25,248.2 277.65,253" fill="#000" stroke="#000" stroke-width="1.1" stroke-linejoin="miter"/><rect x="278.95" y="244.9" width="1.6" height="6.6" fill="#fff"/>
<polygon points="310.5,243.4 319.1,248.2 310.5,253" fill="#000" stroke="#000" stroke-width="1.1" stroke-linejoin="miter"/><rect x="311.8" y="244.9" width="1.6" height="6.6" fill="#fff"/>
<polygon points="343.35,243.4 351.95,248.2 343.35,253" fill="#000" stroke="#000" stroke-width="1.1" stroke-linejoin="miter"/><rect x="344.65" y="244.9" width="1.6" height="6.6" fill="#fff"/>
<polygon points="376.2,243.4 384.8,248.2 376.2,253" fill="#000" stroke="#000" stroke-width="1.1" stroke-linejoin="miter"/><rect x="377.5" y="244.9" width="1.6" height="6.6" fill="#fff"/>
<polygon points="409.05,243.4 417.65,248.2 409.05,253" fill="#000" stroke="#000" stroke-width="1.1" stroke-linejoin="miter"/><rect x="410.35" y="244.9" width="1.6" height="6.6" fill="#fff"/>
<polygon points="441.9,243.4 450.5,248.2 441.9,253" fill="#000" stroke="#000" stroke-width="1.1" stroke-linejoin="miter"/><rect x="443.2" y="244.9" width="1.6" height="6.6" fill="#fff"/>
<polygon points="474.75,243.4 483.35,248.2 474.75,253" fill="#000" stroke="#000" stroke-width="1.1" stroke-linejoin="miter"/><rect x="476.05" y="244.9" width="1.6" height="6.6" fill="#fff"/>
<polygon points="507.6,243.4 516.2,248.2 507.6,253" fill="#000" stroke="#000" stroke-width="1.1" stroke-linejoin="miter"/><rect x="508.9" y="244.9" width="1.6" height="6.6" fill="#fff"/>
</g>
<clipPath id="cb"><rect x="51.2" y="500.1" width="458.9" height="368.8"/></clipPath>
<g clip-path="url(#cb)">
<line x1="50.7" y1="742.3" x2="510.6" y2="742.3" stroke="#d4cdb8" stroke-width="1.2" stroke-dasharray="3 2"/>
<path d="M50.7,707.5C61.65,715.28 72.6,723.06 83.55,730.5C94.5,737.94 105.45,745.04 116.4,752C127.35,758.96 138.3,765.78 149.25,772C160.2,778.22 171.15,783.83 182.1,789.5C193.05,795.17 204,800.9 214.95,806.25C225.9,811.6 236.85,816.59 247.8,821.25C258.75,825.91 269.7,830.26 280.65,835C291.6,839.74 302.55,844.87 313.5,848C324.45,851.13 335.4,852.27 346.35,851.25C357.3,850.23 368.25,847.05 379.2,844.5C390.15,841.95 401.1,840.03 412.05,837.5C423,834.97 433.95,831.82 444.9,829.2C455.85,826.58 466.8,824.48 477.75,822.2C488.7,819.92 499.65,817.46 510.6,815" fill="none" stroke="#1e1e8c" stroke-width="1.25"/>
<path d="M50.7,684.25C61.65,692.14 72.6,700.04 83.55,707.5C94.5,714.96 105.45,721.99 116.4,728.75C127.35,735.51 138.3,742.01 149.25,748.25C160.2,754.49 171.15,760.48 182.1,766.25C193.05,772.02 204,777.55 214.95,783C225.9,788.45 236.85,793.8 247.8,798.75C258.75,803.7 269.7,808.25 280.65,812.5C291.6,816.75 302.55,820.69 313.5,824.5C324.45,828.31 335.4,831.97 346.35,836.25C357.3,840.53 368.25,845.42 379.2,846.25C390.15,847.08 401.1,843.85 412.05,840.75C423,837.65 433.95,834.69 444.9,832.2C455.85,829.71 466.8,827.69 477.75,825.5C488.7,823.31 499.65,820.96 510.6,818.6" fill="none" stroke="#e65454" stroke-width="1.25"/>
<path d="M50.7,660C61.65,667.86 72.6,675.73 83.55,683C94.5,690.27 105.45,696.95 116.4,703.75C127.35,710.55 138.3,717.47 149.25,723.75C160.2,730.03 171.15,735.68 182.1,741.5C193.05,747.32 204,753.32 214.95,758.75C225.9,764.18 236.85,769.02 247.8,773.75C258.75,778.48 269.7,783.08 280.65,787.5C291.6,791.92 302.55,796.15 313.5,800.25C324.45,804.35 335.4,808.32 346.35,812C357.3,815.68 368.25,819.07 379.2,822.5C390.15,825.93 401.1,829.41 412.05,832.1C423,834.79 433.95,836.71 444.9,836C455.85,835.29 466.8,831.97 477.75,829C488.7,826.03 499.65,823.42 510.6,820.8" fill="none" stroke="#3d6fd1" stroke-width="1.25"/>
<path d="M50.7,637.5C61.65,645.37 72.6,653.24 83.55,660.5C94.5,667.76 105.45,674.42 116.4,681.25C127.35,688.08 138.3,695.07 149.25,701.75C160.2,708.43 171.15,714.8 182.1,720.5C193.05,726.2 204,731.24 214.95,736.25C225.9,741.26 236.85,746.23 247.8,751.25C258.75,756.27 269.7,761.34 280.65,766C291.6,770.66 302.55,774.92 313.5,779C324.45,783.08 335.4,786.98 346.35,790.5C357.3,794.02 368.25,797.16 379.2,800.25C390.15,803.34 401.1,806.39 412.05,809.4C423,812.41 433.95,815.38 444.9,818.5C455.85,821.62 466.8,824.89 477.75,826C488.7,827.11 499.65,826.05 510.6,825" fill="none" stroke="#41a072" stroke-width="1.25"/>
<path d="M50.7,613C61.65,621.26 72.6,629.53 83.55,637C94.5,644.47 105.45,651.16 116.4,658C127.35,664.84 138.3,671.83 149.25,678.25C160.2,684.67 171.15,690.53 182.1,696.25C193.05,701.97 204,707.56 214.95,713C225.9,718.44 236.85,723.73 247.8,728.25C258.75,732.77 269.7,736.52 280.65,741C291.6,745.48 302.55,750.7 313.5,755C324.45,759.3 335.4,762.67 346.35,766.25C357.3,769.83 368.25,773.63 379.2,777C390.15,780.37 401.1,783.32 412.05,786.25C423,789.18 433.95,792.07 444.9,794.8C455.85,797.53 466.8,800.08 477.75,802.5C488.7,804.92 499.65,807.21 510.6,809.5" fill="none" stroke="#ac92e0" stroke-width="1.25"/>
<path d="M50.7,590.2C61.65,597.75 72.6,605.3 83.55,612.8C94.5,620.3 105.45,627.76 116.4,634.5C127.35,641.24 138.3,647.28 149.25,653.75C160.2,660.22 171.15,667.12 182.1,673.1C193.05,679.08 204,684.13 214.95,689.25C225.9,694.37 236.85,699.56 247.8,704.25C258.75,708.94 269.7,713.12 280.65,717.5C291.6,721.88 302.55,726.47 313.5,730.5C324.45,734.53 335.4,738.02 346.35,741.75C357.3,745.48 368.25,749.46 379.2,753C390.15,756.54 401.1,759.65 412.05,762.5C423,765.35 433.95,767.94 444.9,770.8C455.85,773.66 466.8,776.79 477.75,779.4C488.7,782.01 499.65,784.11 510.6,786.2" fill="none" stroke="#c8aa36" stroke-width="1.25"/>
<path d="M50.7,566.6C61.65,574.46 72.6,582.33 83.55,589.6C94.5,596.87 105.45,603.55 116.4,610.5C127.35,617.45 138.3,624.68 149.25,631.25C160.2,637.82 171.15,643.72 182.1,649.5C193.05,655.28 204,660.95 214.95,666.25C225.9,671.55 236.85,676.48 247.8,681.25C258.75,686.02 269.7,690.64 280.65,695C291.6,699.36 302.55,703.45 313.5,707.5C324.45,711.55 335.4,715.55 346.35,719.2C357.3,722.85 368.25,726.15 379.2,729C390.15,731.85 401.1,734.25 412.05,737.5C423,740.75 433.95,744.86 444.9,748C455.85,751.14 466.8,753.31 477.75,755.6C488.7,757.89 499.65,760.29 510.6,762.7" fill="none" stroke="#2ccccc" stroke-width="1.25"/>
<path d="M50.7,543.5C61.65,550.96 72.6,558.41 83.55,565.8C94.5,573.19 105.45,580.51 116.4,587.5C127.35,594.49 138.3,601.15 149.25,607.5C160.2,613.85 171.15,619.91 182.1,625.75C193.05,631.59 204,637.22 214.95,642.5C225.9,647.78 236.85,652.71 247.8,657.5C258.75,662.29 269.7,666.96 280.65,671.5C291.6,676.04 302.55,680.47 313.5,684.5C324.45,688.53 335.4,692.16 346.35,695.75C357.3,699.34 368.25,702.89 379.2,706.25C390.15,709.61 401.1,712.78 412.05,715.75C423,718.72 433.95,721.48 444.9,724.2C455.85,726.92 466.8,729.59 477.75,732C488.7,734.41 499.65,736.55 510.6,738.7" fill="none" stroke="#7e6060" stroke-width="1.25"/>
<path d="M50.7,519.3C61.65,526.97 72.6,534.65 83.55,542.1C94.5,549.55 105.45,556.79 116.4,563.75C127.35,570.71 138.3,577.39 149.25,583.75C160.2,590.11 171.15,596.15 182.1,602C193.05,607.85 204,613.49 214.95,618.75C225.9,624.01 236.85,628.87 247.8,633.75C258.75,638.63 269.7,643.52 280.65,648C291.6,652.48 302.55,656.54 313.5,660.5C324.45,664.46 335.4,668.32 346.35,672C357.3,675.68 368.25,679.18 379.2,682.5C390.15,685.82 401.1,688.94 412.05,692C423,695.06 433.95,698.05 444.9,700.8C455.85,703.55 466.8,706.07 477.75,708.5C488.7,710.93 499.65,713.26 510.6,715.6" fill="none" stroke="#a8a832" stroke-width="1.25"/>
<rect x="47" y="703.8" width="7.4" height="7.4" fill="#fff" stroke="#1e1e8c" stroke-width="1.25"/>
<rect x="79.85" y="726.8" width="7.4" height="7.4" fill="#fff" stroke="#1e1e8c" stroke-width="1.25"/>
<rect x="112.7" y="748.3" width="7.4" height="7.4" fill="#1e1e8c" stroke="#1e1e8c" stroke-width="1.25"/>
<rect x="145.55" y="768.3" width="7.4" height="7.4" fill="#fff" stroke="#1e1e8c" stroke-width="1.25"/>
<rect x="178.4" y="785.8" width="7.4" height="7.4" fill="#fff" stroke="#1e1e8c" stroke-width="1.25"/>
<rect x="211.25" y="802.55" width="7.4" height="7.4" fill="#fff" stroke="#1e1e8c" stroke-width="1.25"/>
<rect x="244.1" y="817.55" width="7.4" height="7.4" fill="#fff" stroke="#1e1e8c" stroke-width="1.25"/>
<rect x="276.95" y="831.3" width="7.4" height="7.4" fill="#fff" stroke="#1e1e8c" stroke-width="1.25"/>
<rect x="309.8" y="844.3" width="7.4" height="7.4" fill="#fff" stroke="#1e1e8c" stroke-width="1.25"/>
<rect x="342.65" y="847.55" width="7.4" height="7.4" fill="#fff" stroke="#1e1e8c" stroke-width="1.25"/>
<rect x="375.5" y="840.8" width="7.4" height="7.4" fill="#fff" stroke="#1e1e8c" stroke-width="1.25"/>
<rect x="408.35" y="833.8" width="7.4" height="7.4" fill="#fff" stroke="#1e1e8c" stroke-width="1.25"/>
<rect x="441.2" y="825.5" width="7.4" height="7.4" fill="#fff" stroke="#1e1e8c" stroke-width="1.25"/>
<rect x="474.05" y="818.5" width="7.4" height="7.4" fill="#fff" stroke="#1e1e8c" stroke-width="1.25"/>
<rect x="506.9" y="811.3" width="7.4" height="7.4" fill="#fff" stroke="#1e1e8c" stroke-width="1.25"/>
<circle cx="50.7" cy="684.25" r="4" fill="#fff" stroke="#e65454" stroke-width="1.25"/>
<circle cx="83.55" cy="707.5" r="4" fill="#fff" stroke="#e65454" stroke-width="1.25"/>
<circle cx="116.4" cy="728.75" r="4" fill="#fff" stroke="#e65454" stroke-width="1.25"/>
<circle cx="149.25" cy="748.25" r="4" fill="#e65454" stroke="#e65454" stroke-width="1.25"/>
<circle cx="182.1" cy="766.25" r="4" fill="#fff" stroke="#e65454" stroke-width="1.25"/>
<circle cx="214.95" cy="783" r="4" fill="#fff" stroke="#e65454" stroke-width="1.25"/>
<circle cx="247.8" cy="798.75" r="4" fill="#fff" stroke="#e65454" stroke-width="1.25"/>
<circle cx="280.65" cy="812.5" r="4" fill="#fff" stroke="#e65454" stroke-width="1.25"/>
<circle cx="313.5" cy="824.5" r="4" fill="#fff" stroke="#e65454" stroke-width="1.25"/>
<circle cx="346.35" cy="836.25" r="4" fill="#fff" stroke="#e65454" stroke-width="1.25"/>
<circle cx="379.2" cy="846.25" r="4" fill="#fff" stroke="#e65454" stroke-width="1.25"/>
<circle cx="412.05" cy="840.75" r="4" fill="#fff" stroke="#e65454" stroke-width="1.25"/>
<circle cx="444.9" cy="832.2" r="4" fill="#fff" stroke="#e65454" stroke-width="1.25"/>
<circle cx="477.75" cy="825.5" r="4" fill="#fff" stroke="#e65454" stroke-width="1.25"/>
<circle cx="510.6" cy="818.6" r="4" fill="#fff" stroke="#e65454" stroke-width="1.25"/>
<polygon points="50.7,654.93 55.2,662.53 46.2,662.53" fill="#fff" stroke="#3d6fd1" stroke-width="1.25" stroke-linejoin="miter"/>
<polygon points="83.55,677.93 88.05,685.53 79.05,685.53" fill="#fff" stroke="#3d6fd1" stroke-width="1.25" stroke-linejoin="miter"/>
<polygon points="116.4,698.68 120.9,706.28 111.9,706.28" fill="#fff" stroke="#3d6fd1" stroke-width="1.25" stroke-linejoin="miter"/>
<polygon points="149.25,718.68 153.75,726.28 144.75,726.28" fill="#fff" stroke="#3d6fd1" stroke-width="1.25" stroke-linejoin="miter"/>
<polygon points="182.1,736.43 186.6,744.03 177.6,744.03" fill="#fff" stroke="#3d6fd1" stroke-width="1.25" stroke-linejoin="miter"/>
<polygon points="214.95,753.68 219.45,761.28 210.45,761.28" fill="#fff" stroke="#3d6fd1" stroke-width="1.25" stroke-linejoin="miter"/>
<polygon points="247.8,768.68 252.3,776.28 243.3,776.28" fill="#fff" stroke="#3d6fd1" stroke-width="1.25" stroke-linejoin="miter"/>
<polygon points="280.65,782.43 285.15,790.03 276.15,790.03" fill="#fff" stroke="#3d6fd1" stroke-width="1.25" stroke-linejoin="miter"/>
<polygon points="313.5,795.18 318,802.78 309,802.78" fill="#fff" stroke="#3d6fd1" stroke-width="1.25" stroke-linejoin="miter"/>
<polygon points="346.35,806.93 350.85,814.53 341.85,814.53" fill="#fff" stroke="#3d6fd1" stroke-width="1.25" stroke-linejoin="miter"/>
<polygon points="379.2,817.43 383.7,825.03 374.7,825.03" fill="#fff" stroke="#3d6fd1" stroke-width="1.25" stroke-linejoin="miter"/>
<polygon points="412.05,827.03 416.55,834.63 407.55,834.63" fill="#fff" stroke="#3d6fd1" stroke-width="1.25" stroke-linejoin="miter"/>
<polygon points="444.9,830.93 449.4,838.53 440.4,838.53" fill="#fff" stroke="#3d6fd1" stroke-width="1.25" stroke-linejoin="miter"/>
<polygon points="477.75,823.93 482.25,831.53 473.25,831.53" fill="#fff" stroke="#3d6fd1" stroke-width="1.25" stroke-linejoin="miter"/>
<polygon points="510.6,815.73 515.1,823.33 506.1,823.33" fill="#fff" stroke="#3d6fd1" stroke-width="1.25" stroke-linejoin="miter"/>
<polygon points="50.7,642.57 55.2,634.97 46.2,634.97" fill="#fff" stroke="#41a072" stroke-width="1.25" stroke-linejoin="miter"/>
<polygon points="83.55,665.57 88.05,657.97 79.05,657.97" fill="#fff" stroke="#41a072" stroke-width="1.25" stroke-linejoin="miter"/>
<polygon points="116.4,686.32 120.9,678.72 111.9,678.72" fill="#fff" stroke="#41a072" stroke-width="1.25" stroke-linejoin="miter"/>
<polygon points="149.25,706.82 153.75,699.22 144.75,699.22" fill="#fff" stroke="#41a072" stroke-width="1.25" stroke-linejoin="miter"/>
<polygon points="182.1,725.57 186.6,717.97 177.6,717.97" fill="#fff" stroke="#41a072" stroke-width="1.25" stroke-linejoin="miter"/>
<polygon points="214.95,741.32 219.45,733.72 210.45,733.72" fill="#41a072" stroke="#41a072" stroke-width="1.25" stroke-linejoin="miter"/>
<polygon points="247.8,756.32 252.3,748.72 243.3,748.72" fill="#fff" stroke="#41a072" stroke-width="1.25" stroke-linejoin="miter"/>
<polygon points="280.65,771.07 285.15,763.47 276.15,763.47" fill="#fff" stroke="#41a072" stroke-width="1.25" stroke-linejoin="miter"/>
<polygon points="313.5,784.07 318,776.47 309,776.47" fill="#fff" stroke="#41a072" stroke-width="1.25" stroke-linejoin="miter"/>
<polygon points="346.35,795.57 350.85,787.97 341.85,787.97" fill="#fff" stroke="#41a072" stroke-width="1.25" stroke-linejoin="miter"/>
<polygon points="379.2,805.32 383.7,797.72 374.7,797.72" fill="#fff" stroke="#41a072" stroke-width="1.25" stroke-linejoin="miter"/>
<polygon points="412.05,814.47 416.55,806.87 407.55,806.87" fill="#fff" stroke="#41a072" stroke-width="1.25" stroke-linejoin="miter"/>
<polygon points="444.9,823.57 449.4,815.97 440.4,815.97" fill="#fff" stroke="#41a072" stroke-width="1.25" stroke-linejoin="miter"/>
<polygon points="477.75,831.07 482.25,823.47 473.25,823.47" fill="#fff" stroke="#41a072" stroke-width="1.25" stroke-linejoin="miter"/>
<polygon points="510.6,830.07 515.1,822.47 506.1,822.47" fill="#fff" stroke="#41a072" stroke-width="1.25" stroke-linejoin="miter"/>
<polygon points="50.7,608 55.7,613 50.7,618 45.7,613" fill="#fff" stroke="#ac92e0" stroke-width="1.25" stroke-linejoin="miter"/>
<polygon points="83.55,632 88.55,637 83.55,642 78.55,637" fill="#fff" stroke="#ac92e0" stroke-width="1.25" stroke-linejoin="miter"/>
<polygon points="116.4,653 121.4,658 116.4,663 111.4,658" fill="#fff" stroke="#ac92e0" stroke-width="1.25" stroke-linejoin="miter"/>
<polygon points="149.25,673.25 154.25,678.25 149.25,683.25 144.25,678.25" fill="#fff" stroke="#ac92e0" stroke-width="1.25" stroke-linejoin="miter"/>
<polygon points="182.1,691.25 187.1,696.25 182.1,701.25 177.1,696.25" fill="#fff" stroke="#ac92e0" stroke-width="1.25" stroke-linejoin="miter"/>
<polygon points="214.95,708 219.95,713 214.95,718 209.95,713" fill="#fff" stroke="#ac92e0" stroke-width="1.25" stroke-linejoin="miter"/>
<polygon points="247.8,723.25 252.8,728.25 247.8,733.25 242.8,728.25" fill="#fff" stroke="#ac92e0" stroke-width="1.25" stroke-linejoin="miter"/>
<polygon points="280.65,736 285.65,741 280.65,746 275.65,741" fill="#fff" stroke="#ac92e0" stroke-width="1.25" stroke-linejoin="miter"/>
<polygon points="313.5,750 318.5,755 313.5,760 308.5,755" fill="#fff" stroke="#ac92e0" stroke-width="1.25" stroke-linejoin="miter"/>
<polygon points="346.35,761.25 351.35,766.25 346.35,771.25 341.35,766.25" fill="#fff" stroke="#ac92e0" stroke-width="1.25" stroke-linejoin="miter"/>
<polygon points="379.2,772 384.2,777 379.2,782 374.2,777" fill="#fff" stroke="#ac92e0" stroke-width="1.25" stroke-linejoin="miter"/>
<polygon points="412.05,781.25 417.05,786.25 412.05,791.25 407.05,786.25" fill="#fff" stroke="#ac92e0" stroke-width="1.25" stroke-linejoin="miter"/>
<polygon points="444.9,789.8 449.9,794.8 444.9,799.8 439.9,794.8" fill="#fff" stroke="#ac92e0" stroke-width="1.25" stroke-linejoin="miter"/>
<polygon points="477.75,797.5 482.75,802.5 477.75,807.5 472.75,802.5" fill="#fff" stroke="#ac92e0" stroke-width="1.25" stroke-linejoin="miter"/>
<polygon points="510.6,804.5 515.6,809.5 510.6,814.5 505.6,809.5" fill="#fff" stroke="#ac92e0" stroke-width="1.25" stroke-linejoin="miter"/>
<polygon points="45.63,590.2 53.23,585.7 53.23,594.7" fill="#fff" stroke="#c8aa36" stroke-width="1.25" stroke-linejoin="miter"/>
<polygon points="78.48,612.8 86.08,608.3 86.08,617.3" fill="#fff" stroke="#c8aa36" stroke-width="1.25" stroke-linejoin="miter"/>
<polygon points="111.33,634.5 118.93,630 118.93,639" fill="#fff" stroke="#c8aa36" stroke-width="1.25" stroke-linejoin="miter"/>
<polygon points="144.18,653.75 151.78,649.25 151.78,658.25" fill="#fff" stroke="#c8aa36" stroke-width="1.25" stroke-linejoin="miter"/>
<polygon points="177.03,673.1 184.63,668.6 184.63,677.6" fill="#fff" stroke="#c8aa36" stroke-width="1.25" stroke-linejoin="miter"/>
<polygon points="209.88,689.25 217.48,684.75 217.48,693.75" fill="#fff" stroke="#c8aa36" stroke-width="1.25" stroke-linejoin="miter"/>
<polygon points="242.73,704.25 250.33,699.75 250.33,708.75" fill="#fff" stroke="#c8aa36" stroke-width="1.25" stroke-linejoin="miter"/>
<polygon points="275.58,717.5 283.18,713 283.18,722" fill="#fff" stroke="#c8aa36" stroke-width="1.25" stroke-linejoin="miter"/>
<polygon points="308.43,730.5 316.03,726 316.03,735" fill="#fff" stroke="#c8aa36" stroke-width="1.25" stroke-linejoin="miter"/>
<polygon points="341.28,741.75 348.88,737.25 348.88,746.25" fill="#fff" stroke="#c8aa36" stroke-width="1.25" stroke-linejoin="miter"/>
<polygon points="374.13,753 381.73,748.5 381.73,757.5" fill="#fff" stroke="#c8aa36" stroke-width="1.25" stroke-linejoin="miter"/>
<polygon points="406.98,762.5 414.58,758 414.58,767" fill="#fff" stroke="#c8aa36" stroke-width="1.25" stroke-linejoin="miter"/>
<polygon points="439.83,770.8 447.43,766.3 447.43,775.3" fill="#fff" stroke="#c8aa36" stroke-width="1.25" stroke-linejoin="miter"/>
<polygon points="472.68,779.4 480.28,774.9 480.28,783.9" fill="#fff" stroke="#c8aa36" stroke-width="1.25" stroke-linejoin="miter"/>
<polygon points="505.53,786.2 513.13,781.7 513.13,790.7" fill="#fff" stroke="#c8aa36" stroke-width="1.25" stroke-linejoin="miter"/>
<polygon points="55.77,566.6 48.17,562.1 48.17,571.1" fill="#fff" stroke="#2ccccc" stroke-width="1.25" stroke-linejoin="miter"/>
<polygon points="88.62,589.6 81.02,585.1 81.02,594.1" fill="#fff" stroke="#2ccccc" stroke-width="1.25" stroke-linejoin="miter"/>
<polygon points="121.47,610.5 113.87,606 113.87,615" fill="#fff" stroke="#2ccccc" stroke-width="1.25" stroke-linejoin="miter"/>
<polygon points="154.32,631.25 146.72,626.75 146.72,635.75" fill="#fff" stroke="#2ccccc" stroke-width="1.25" stroke-linejoin="miter"/>
<polygon points="187.17,649.5 179.57,645 179.57,654" fill="#fff" stroke="#2ccccc" stroke-width="1.25" stroke-linejoin="miter"/>
<polygon points="220.02,666.25 212.42,661.75 212.42,670.75" fill="#fff" stroke="#2ccccc" stroke-width="1.25" stroke-linejoin="miter"/>
<polygon points="252.87,681.25 245.27,676.75 245.27,685.75" fill="#fff" stroke="#2ccccc" stroke-width="1.25" stroke-linejoin="miter"/>
<polygon points="285.72,695 278.12,690.5 278.12,699.5" fill="#fff" stroke="#2ccccc" stroke-width="1.25" stroke-linejoin="miter"/>
<polygon points="318.57,707.5 310.97,703 310.97,712" fill="#fff" stroke="#2ccccc" stroke-width="1.25" stroke-linejoin="miter"/>
<polygon points="351.42,719.2 343.82,714.7 343.82,723.7" fill="#fff" stroke="#2ccccc" stroke-width="1.25" stroke-linejoin="miter"/>
<polygon points="384.27,729 376.67,724.5 376.67,733.5" fill="#fff" stroke="#2ccccc" stroke-width="1.25" stroke-linejoin="miter"/>
<polygon points="417.12,737.5 409.52,733 409.52,742" fill="#2ccccc" stroke="#2ccccc" stroke-width="1.25" stroke-linejoin="miter"/>
<polygon points="449.97,748 442.37,743.5 442.37,752.5" fill="#fff" stroke="#2ccccc" stroke-width="1.25" stroke-linejoin="miter"/>
<polygon points="482.82,755.6 475.22,751.1 475.22,760.1" fill="#fff" stroke="#2ccccc" stroke-width="1.25" stroke-linejoin="miter"/>
<polygon points="515.67,762.7 508.07,758.2 508.07,767.2" fill="#fff" stroke="#2ccccc" stroke-width="1.25" stroke-linejoin="miter"/>
<polygon points="50.7,539.1 54.7,541.3 54.7,545.7 50.7,547.9 46.7,545.7 46.7,541.3" fill="#fff" stroke="#7e6060" stroke-width="1.25" stroke-linejoin="miter"/>
<polygon points="83.55,561.4 87.55,563.6 87.55,568 83.55,570.2 79.55,568 79.55,563.6" fill="#fff" stroke="#7e6060" stroke-width="1.25" stroke-linejoin="miter"/>
<polygon points="116.4,583.1 120.4,585.3 120.4,589.7 116.4,591.9 112.4,589.7 112.4,585.3" fill="#fff" stroke="#7e6060" stroke-width="1.25" stroke-linejoin="miter"/>
<polygon points="149.25,603.1 153.25,605.3 153.25,609.7 149.25,611.9 145.25,609.7 145.25,605.3" fill="#fff" stroke="#7e6060" stroke-width="1.25" stroke-linejoin="miter"/>
<polygon points="182.1,621.35 186.1,623.55 186.1,627.95 182.1,630.15 178.1,627.95 178.1,623.55" fill="#fff" stroke="#7e6060" stroke-width="1.25" stroke-linejoin="miter"/>
<polygon points="214.95,638.1 218.95,640.3 218.95,644.7 214.95,646.9 210.95,644.7 210.95,640.3" fill="#fff" stroke="#7e6060" stroke-width="1.25" stroke-linejoin="miter"/>
<polygon points="247.8,653.1 251.8,655.3 251.8,659.7 247.8,661.9 243.8,659.7 243.8,655.3" fill="#fff" stroke="#7e6060" stroke-width="1.25" stroke-linejoin="miter"/>
<polygon points="280.65,667.1 284.65,669.3 284.65,673.7 280.65,675.9 276.65,673.7 276.65,669.3" fill="#fff" stroke="#7e6060" stroke-width="1.25" stroke-linejoin="miter"/>
<polygon points="313.5,680.1 317.5,682.3 317.5,686.7 313.5,688.9 309.5,686.7 309.5,682.3" fill="#fff" stroke="#7e6060" stroke-width="1.25" stroke-linejoin="miter"/>
<polygon points="346.35,691.35 350.35,693.55 350.35,697.95 346.35,700.15 342.35,697.95 342.35,693.55" fill="#fff" stroke="#7e6060" stroke-width="1.25" stroke-linejoin="miter"/>
<polygon points="379.2,701.85 383.2,704.05 383.2,708.45 379.2,710.65 375.2,708.45 375.2,704.05" fill="#fff" stroke="#7e6060" stroke-width="1.25" stroke-linejoin="miter"/>
<polygon points="412.05,711.35 416.05,713.55 416.05,717.95 412.05,720.15 408.05,717.95 408.05,713.55" fill="#fff" stroke="#7e6060" stroke-width="1.25" stroke-linejoin="miter"/>
<polygon points="444.9,719.8 448.9,722 448.9,726.4 444.9,728.6 440.9,726.4 440.9,722" fill="#fff" stroke="#7e6060" stroke-width="1.25" stroke-linejoin="miter"/>
<polygon points="477.75,727.6 481.75,729.8 481.75,734.2 477.75,736.4 473.75,734.2 473.75,729.8" fill="#fff" stroke="#7e6060" stroke-width="1.25" stroke-linejoin="miter"/>
<polygon points="510.6,734.3 514.6,736.5 514.6,740.9 510.6,743.1 506.6,740.9 506.6,736.5" fill="#7e6060" stroke="#7e6060" stroke-width="1.25" stroke-linejoin="miter"/>
<polygon points="50.7,514.9 55.27,518.22 53.52,523.58 47.88,523.58 46.13,518.22" fill="#fff" stroke="#a8a832" stroke-width="1.25" stroke-linejoin="miter"/>
<polygon points="83.55,537.7 88.12,541.02 86.37,546.38 80.73,546.38 78.98,541.02" fill="#fff" stroke="#a8a832" stroke-width="1.25" stroke-linejoin="miter"/>
<polygon points="116.4,559.35 120.97,562.67 119.22,568.03 113.58,568.03 111.83,562.67" fill="#fff" stroke="#a8a832" stroke-width="1.25" stroke-linejoin="miter"/>
<polygon points="149.25,579.35 153.82,582.67 152.07,588.03 146.43,588.03 144.68,582.67" fill="#fff" stroke="#a8a832" stroke-width="1.25" stroke-linejoin="miter"/>
<polygon points="182.1,597.6 186.67,600.92 184.92,606.28 179.28,606.28 177.53,600.92" fill="#fff" stroke="#a8a832" stroke-width="1.25" stroke-linejoin="miter"/>
<polygon points="214.95,614.35 219.52,617.67 217.77,623.03 212.13,623.03 210.38,617.67" fill="#fff" stroke="#a8a832" stroke-width="1.25" stroke-linejoin="miter"/>
<polygon points="247.8,629.35 252.37,632.67 250.62,638.03 244.98,638.03 243.23,632.67" fill="#fff" stroke="#a8a832" stroke-width="1.25" stroke-linejoin="miter"/>
<polygon points="280.65,643.6 285.22,646.92 283.47,652.28 277.83,652.28 276.08,646.92" fill="#fff" stroke="#a8a832" stroke-width="1.25" stroke-linejoin="miter"/>
<polygon points="313.5,656.1 318.07,659.42 316.32,664.78 310.68,664.78 308.93,659.42" fill="#fff" stroke="#a8a832" stroke-width="1.25" stroke-linejoin="miter"/>
<polygon points="346.35,667.6 350.92,670.92 349.17,676.28 343.53,676.28 341.78,670.92" fill="#fff" stroke="#a8a832" stroke-width="1.25" stroke-linejoin="miter"/>
<polygon points="379.2,678.1 383.77,681.42 382.02,686.78 376.38,686.78 374.63,681.42" fill="#fff" stroke="#a8a832" stroke-width="1.25" stroke-linejoin="miter"/>
<polygon points="412.05,687.6 416.62,690.92 414.87,696.28 409.23,696.28 407.48,690.92" fill="#fff" stroke="#a8a832" stroke-width="1.25" stroke-linejoin="miter"/>
<polygon points="444.9,696.4 449.47,699.72 447.72,705.08 442.08,705.08 440.33,699.72" fill="#fff" stroke="#a8a832" stroke-width="1.25" stroke-linejoin="miter"/>
<polygon points="477.75,704.1 482.32,707.42 480.57,712.78 474.93,712.78 473.18,707.42" fill="#fff" stroke="#a8a832" stroke-width="1.25" stroke-linejoin="miter"/>
<polygon points="510.6,711.2 515.17,714.52 513.42,719.88 507.78,719.88 506.03,714.52" fill="#a8a832" stroke="#a8a832" stroke-width="1.25" stroke-linejoin="miter"/>
<polygon points="47.7,737.5 56.3,742.3 47.7,747.1" fill="#000" stroke="#000" stroke-width="1.1" stroke-linejoin="miter"/><rect x="49" y="739" width="1.6" height="6.6" fill="#fff"/>
<polygon points="80.55,737.5 89.15,742.3 80.55,747.1" fill="#000" stroke="#000" stroke-width="1.1" stroke-linejoin="miter"/><rect x="81.85" y="739" width="1.6" height="6.6" fill="#fff"/>
<polygon points="113.4,737.5 122,742.3 113.4,747.1" fill="#000" stroke="#000" stroke-width="1.1" stroke-linejoin="miter"/><rect x="114.7" y="739" width="1.6" height="6.6" fill="#fff"/>
<polygon points="146.25,737.5 154.85,742.3 146.25,747.1" fill="#000" stroke="#000" stroke-width="1.1" stroke-linejoin="miter"/><rect x="147.55" y="739" width="1.6" height="6.6" fill="#fff"/>
<polygon points="179.1,737.5 187.7,742.3 179.1,747.1" fill="#000" stroke="#000" stroke-width="1.1" stroke-linejoin="miter"/><rect x="180.4" y="739" width="1.6" height="6.6" fill="#fff"/>
<polygon points="211.95,737.5 220.55,742.3 211.95,747.1" fill="#000" stroke="#000" stroke-width="1.1" stroke-linejoin="miter"/><rect x="213.25" y="739" width="1.6" height="6.6" fill="#fff"/>
<polygon points="244.8,737.5 253.4,742.3 244.8,747.1" fill="#000" stroke="#000" stroke-width="1.1" stroke-linejoin="miter"/><rect x="246.1" y="739" width="1.6" height="6.6" fill="#fff"/>
<polygon points="277.65,737.5 286.25,742.3 277.65,747.1" fill="#000" stroke="#000" stroke-width="1.1" stroke-linejoin="miter"/><rect x="278.95" y="739" width="1.6" height="6.6" fill="#fff"/>
<polygon points="310.5,737.5 319.1,742.3 310.5,747.1" fill="#000" stroke="#000" stroke-width="1.1" stroke-linejoin="miter"/><rect x="311.8" y="739" width="1.6" height="6.6" fill="#fff"/>
<polygon points="343.35,737.5 351.95,742.3 343.35,747.1" fill="#000" stroke="#000" stroke-width="1.1" stroke-linejoin="miter"/><rect x="344.65" y="739" width="1.6" height="6.6" fill="#fff"/>
<polygon points="376.2,737.5 384.8,742.3 376.2,747.1" fill="#000" stroke="#000" stroke-width="1.1" stroke-linejoin="miter"/><rect x="377.5" y="739" width="1.6" height="6.6" fill="#fff"/>
<polygon points="409.05,737.5 417.65,742.3 409.05,747.1" fill="#000" stroke="#000" stroke-width="1.1" stroke-linejoin="miter"/><rect x="410.35" y="739" width="1.6" height="6.6" fill="#fff"/>
<polygon points="441.9,737.5 450.5,742.3 441.9,747.1" fill="#000" stroke="#000" stroke-width="1.1" stroke-linejoin="miter"/><rect x="443.2" y="739" width="1.6" height="6.6" fill="#fff"/>
<polygon points="474.75,737.5 483.35,742.3 474.75,747.1" fill="#000" stroke="#000" stroke-width="1.1" stroke-linejoin="miter"/><rect x="476.05" y="739" width="1.6" height="6.6" fill="#fff"/>
<polygon points="507.6,737.5 516.2,742.3 507.6,747.1" fill="#000" stroke="#000" stroke-width="1.1" stroke-linejoin="miter"/><rect x="508.9" y="739" width="1.6" height="6.6" fill="#fff"/>
</g>
<rect x="50.7" y="20.6" width="459.9" height="369.7" fill="none" stroke="#000" stroke-width="2"/>
<rect x="50.7" y="499.6" width="459.9" height="369.8" fill="none" stroke="#000" stroke-width="2"/>
<text x="49.4" y="14" class="pl">(a)</text>
<text x="50.4" y="493" class="pl" style="font-weight:normal;font-size:19px;stroke:#000;stroke-width:0.4px">(b)</text>
<text x="271" y="440.2" class="at"><tspan font-weight="bold">t</tspan>/T</text>
<text x="271" y="918.8" class="at" style="stroke:#000;stroke-width:0.35px">t/T</text>
<text transform="translate(10.2,204) rotate(-90) skewX(-9)" text-anchor="middle" class="at" style="font-size:21px;font-weight:bold">&#951;</text>
<text transform="translate(15.8,683.5) rotate(-90)" text-anchor="middle" class="at" style="font-size:20px"><tspan font-weight="bold">&#945;</tspan><tspan font-size="13.5" dy="4" style="stroke:#000;stroke-width:0.35px">max</tspan><tspan dy="-4" dx="0.3">/&#176;</tspan></text>
</svg>
</body></html>
